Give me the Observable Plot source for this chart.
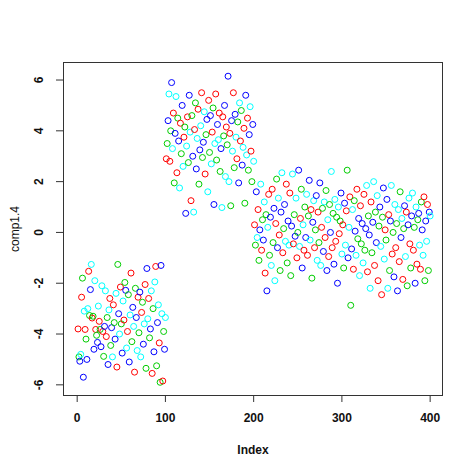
<!DOCTYPE html>
<html><head><meta charset="utf-8">
<script src="https://cdn.jsdelivr.net/npm/d3@7"></script>
<script src="https://cdn.jsdelivr.net/npm/@observablehq/plot@0.6"></script>
<style>body{margin:0;background:#fff} svg{display:block}</style>
</head><body><div id="chart"></div>
<script>
// comp1[,4] values by index (approximate)
const cluster1 = [
 -3.8, -4.9, -5.07, -4.8, -2.55, -1.8, -5.7, -3.1, -3.82, -4.2,
 -5.0, -3.0, -1.53, -3.27, -2.25, -1.26, -3.37, -3.3, -4.6, -1.9,
 -3.82, -4.05, -4.33, -2.9, -3.5, -3.82, -4.5, -2.1, -3.9, -4.88,
 -3.7, -2.3, -4.1, -3.35, -5.2, -3.05, -2.6, -4.45, -3.75, -4.9,
 -2.85, -3.55, -4.2, -2.4, -5.3, -1.26, -3.2, -4.0, -2.15, -3.6,
 -4.75, -2.7, -3.45, -1.97, -2.28, -4.55, -3.9, -2.45, -5.1, -3.25,
 -1.6, -4.3, -2.95, -3.7, -5.5, -2.2, -3.35, -4.65, -2.55, -3.95,
 -2.35, -4.9, -3.15, -2.75, -4.4, -3.6, -2.05, -5.35, -1.42, -3.4,
 -2.6, -4.15, -3.8, -2.3, -5.55, -3.0, -4.7, -1.95, -1.34, -5.25,
 -3.55, -2.85, -4.35, -5.9, -1.3, -3.2, -5.85, -3.9, -4.6, -3.35
];
const cluster2 = [
 2.9, 3.5, 4.4, 5.45, 2.8, 4.0, 5.9, 3.3, 4.7, 1.95,
 3.9, 5.35, 2.35, 4.5, 3.6, 1.75, 4.3, 3.1, 5.0, 2.6,
 3.75, 4.15, 0.75, 3.4, 4.55, 2.75, 5.4, 3.95, 1.25, 4.6,
 3.0, 0.8, 4.05, 5.1, 2.5, 3.7, 4.85, 1.9, 3.25, 4.2,
 5.5, 2.95, 3.55, 4.75, 2.3, 3.85, 4.45, 1.6, 5.2, 3.15,
 4.6, 2.7, 3.95, 4.9, 1.1, 3.5, 5.45, 2.85, 4.25, 3.65,
 4.7, 2.4, 3.3, 0.98, 4.55, 3.8, 5.0, 2.2, 4.15, 3.45,
 6.15, 2.0, 3.9, 1.05, 4.4, 3.2, 5.5, 2.55, 4.65, 3.75,
 2.9, 4.35, 1.95, 5.1, 3.6, 4.8, 2.65, 3.35, 4.1, 1.15,
 5.4, 3.05, 4.5, 2.45, 3.85, 4.95, 3.2, 2.0, 4.25, 2.8
];
const cluster3 = [
 0.3, -0.5, 1.6, -0.2, 0.9, -1.1, 0.1, 1.9, -0.7, 0.5,
 -0.3, 1.2, -1.6, 0.7, -2.3, 0.2, 1.5, -0.9, 0.6, -1.3,
 1.7, -0.4, 0.95, -1.9, 0.35, 2.1, -0.6, 1.35, -0.1, -1.5,
 0.8, 2.35, -0.8, 0.15, 1.1, -0.35, 1.9, -1.2, 0.45, -0.5,
 1.55, -1.7, 0.25, 2.3, -0.45, 0.7, -0.15, 1.35, -1.0, 0.0,
 2.45, -0.55, 0.55, 1.7, -1.4, 0.3, -0.7, 1.0, -0.2, 1.5,
 -0.9, 0.65, 2.05, -0.3, 0.9, -1.8, 0.4, 1.25, -0.6, 0.1,
 1.45, -1.1, 0.8, -0.4, 1.95, -1.3, 0.2, 0.95, -0.75, 1.2,
 -0.2, 1.65, -1.5, 0.5, -0.95, 1.1, 0.0, 2.4, -0.6, 0.75,
 -1.25, 1.3, -0.35, 0.6, -2.0, 1.0, -0.05, 0.45, 1.55, -0.85,
 0.3, -1.4, 1.15, -0.5, 0.85, 2.45, -1.0, 0.2, 1.4, -2.87,
 -0.65, 0.9, -1.45, 1.25, 0.05, -0.9, 1.7, -0.25, 0.55, -1.7,
 1.05, -0.45, 0.35, -1.2, 1.5, -0.7, 0.15, 1.85, -1.55, 0.65,
 -0.1, -2.2, 1.2, -0.8, 0.4, 2.0, -1.3, 0.8, -0.4, 1.45,
 -1.9, 0.25, 1.0, -0.55, -2.45, 0.6, 1.75, -1.05, 0.1, -0.3,
 1.3, -2.2, 0.7, -1.5, 0.45, 1.85, -0.85, 0.0, -1.75, 1.1,
 -0.6, 0.35, -2.3, 0.9, -1.15, 1.6, -0.2, 0.55, -1.85, 0.15,
 1.05, -0.95, 0.8, -2.1, 0.3, 1.35, -0.45, -1.4, 0.65, 1.55,
 -0.7, 0.2, -2.0, 1.0, -1.25, 0.5, 0.75, -0.5, -1.45, 1.2,
 0.1, -0.9, 1.4, -1.9, 0.45, -0.35, 1.1, -1.5, 0.8, 0.65
];
const colours = ["#FF0000", "#00CD00", "#0000FF", "#00FFFF"];
const xTicks = [0, 100, 200, 300, 400];
const yTicks = [-6, -4, -2, 0, 2, 4, 6];
const xLabel = "Index";
const yLabel = "comp1.4";

const values = [...cluster1, ...cluster2, ...cluster3];
const data = values.map((v, i) => ({index: i + 1, value: v, group: i % 4}));

const font = "'Liberation Sans', Arial, Helvetica, sans-serif";
const plot = Plot.plot({
  width: 474, height: 473,
  marginLeft: 63, marginRight: 32, marginTop: 62, marginBottom: 78,
  x: {domain: [-15.5, 414]},
  y: {domain: [-6.42, 6.69]},
  color: {type: "ordinal", domain: [0, 1, 2, 3], range: colours},
  style: {fontFamily: font, background: "#fff"},
  marks: [
    Plot.frame({stroke: "#333", strokeWidth: 1}),
    Plot.dot(data, {x: "index", y: "value", stroke: "group", r: 3, strokeWidth: 1, fill: "none"}),
    Plot.axisX({ticks: xTicks, tickSize: 7, tickFormat: () => "", label: null, stroke: "#333"}),
    Plot.axisY({ticks: yTicks, tickSize: 7, tickFormat: () => "", label: null, stroke: "#333"}),
    Plot.text(xTicks, {x: d => d, text: d => String(d), frameAnchor: "bottom", lineAnchor: "middle", dy: 23, fontSize: 12, fontWeight: "bold", fill: "#111"}),
    Plot.text(yTicks, {y: d => d, text: d => String(d), frameAnchor: "left", lineAnchor: "middle", textAnchor: "middle", dx: -24, rotate: -90, fontSize: 12, fontWeight: "bold", fill: "#111"}),
    Plot.text([xLabel], {text: d => d, frameAnchor: "bottom", lineAnchor: "middle", dy: 55, fontSize: 12, fontWeight: "bold", fill: "#111"}),
    Plot.text([yLabel], {text: d => d, frameAnchor: "left", lineAnchor: "middle", textAnchor: "middle", dx: -48, rotate: -90, fontSize: 12, fill: "#111"})
  ]
});
document.getElementById("chart").appendChild(plot);
</script>
</body></html>
